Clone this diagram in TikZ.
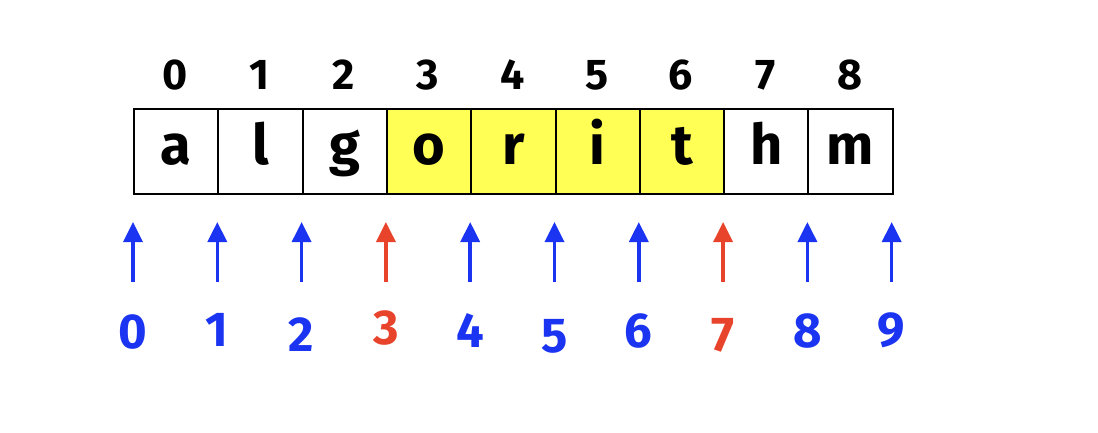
\documentclass[tikz,border=0pt]{standalone}
\usepackage{fontspec}
\setmainfont{Fira Sans}
\usetikzlibrary{arrows.meta}
\definecolor{bl}{HTML}{1A34F2}
\definecolor{rd}{HTML}{E8432B}
\definecolor{yl}{HTML}{FFFF55}
\begin{document}
\begin{tikzpicture}[x=1pt,y=-1pt,
  cell/.style={draw,line width=2pt,minimum width=84.3pt,minimum height=85pt,inner sep=0pt,anchor=north west,font=\bfseries\fontsize{56}{56}\selectfont},
  idx/.style={font=\bfseries\fontsize{43}{43}\selectfont},
  ptr/.style={line width=3.5pt,-{Triangle[width=19pt,length=20pt]}},
  lab/.style={font=\bfseries\fontsize{49}{49}\selectfont}]
\useasboundingbox (0,0) rectangle (1098,432);
\foreach \c [count=\i from 0] in {a,l,g,o,r,i,t,h,m}{
  \pgfmathsetmacro\fc{(\i>=3 && \i<=6) ? "yl" : "white"}
  \node[cell,fill=\fc] (c\i) at ({133+84.3*\i},108) {\raisebox{0pt}[0.45em][0pt]{\c}};
  \node[idx] (n\i) at ({133+84.3*(\i+0.5)},75) {\i};
}
\foreach \i/\yy in {0/332,1/330,2/335,3/328,4/331,5/336,6/331,7/335,8/331,9/330}{
  \pgfmathsetmacro\col{(\i==3 || \i==7) ? "rd" : "bl"}
  \coordinate (s\i) at ({133+84.3*\i},282);
  \coordinate (e\i) at ({133+84.3*\i},222);
  \draw[ptr,color=\col] (s\i) -- (e\i);
  \node[lab,text=\col] (l\i) at ({133+84.3*\i},\yy) {\i};
}
\end{tikzpicture}
\end{document}
